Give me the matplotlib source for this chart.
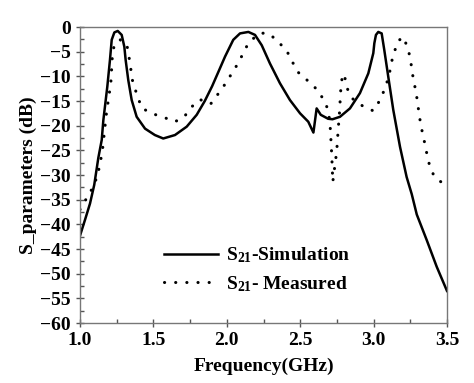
import numpy as np
import matplotlib
matplotlib.use("Agg")
import matplotlib.pyplot as plt
import matplotlib.ticker as mticker

# Simulation S21
sim_f = [1.00, 1.034, 1.068, 1.097, 1.125, 1.148, 1.159, 1.186, 1.204, 1.216, 1.234, 1.257,
         1.284, 1.302, 1.311, 1.329, 1.352, 1.386, 1.443, 1.51, 1.567, 1.647, 1.727,
         1.795, 1.85, 1.90, 1.95, 1.988, 2.044, 2.09, 2.147, 2.192, 2.238, 2.294, 2.362,
         2.43, 2.499, 2.555, 2.59, 2.612, 2.64, 2.69, 2.72, 2.771, 2.839, 2.907, 2.964,
         2.998, 3.005, 3.016, 3.032, 3.055, 3.073, 3.10, 3.134, 3.18, 3.225, 3.26,
         3.294, 3.362, 3.43, 3.50]
sim_db = [-42.3, -39.1, -35.8, -32.0, -26.5, -22.9, -18.9, -12.1, -6.7, -2.6, -1.1, -0.8,
          -1.6, -4.0, -6.7, -10.8, -14.8, -18.2, -20.6, -21.9, -22.6, -21.9, -20.2,
          -17.8, -15.0, -12.0, -8.6, -6.0, -2.6, -1.3, -1.0, -1.6, -3.7, -7.4, -11.4,
          -14.8, -17.5, -19.2, -21.4, -16.5, -17.8, -18.6, -18.7, -18.2, -16.5, -13.4, -9.4,
          -5.3, -3.3, -1.6, -1.0, -1.3, -4.7, -10.1, -16.8, -24.3, -30.4, -33.9,
          -38.0, -43.2, -48.6, -53.5]

# Measured S21
meas_f = [1.00, 1.012, 1.05, 1.097, 1.123, 1.141, 1.155, 1.18, 1.21, 1.22, 1.234, 1.275,
          1.318, 1.334, 1.36, 1.42, 1.486, 1.57, 1.647, 1.71, 1.76, 1.817, 1.89, 1.94,
          1.995, 2.044, 2.085, 2.12, 2.153, 2.215, 2.26, 2.299, 2.362, 2.403, 2.442, 2.483,
          2.548, 2.612, 2.662, 2.69, 2.703, 2.708, 2.713, 2.717, 2.722, 2.744, 2.753,
          2.758, 2.766, 2.771, 2.776, 2.785, 2.80, 2.816, 2.855, 2.925, 2.998, 3.044,
          3.078, 3.107, 3.117, 3.139, 3.169, 3.202, 3.236, 3.253, 3.266, 3.282, 3.298,
          3.309, 3.323, 3.343, 3.36, 3.379, 3.411, 3.475, 3.50]
meas_db = [-37.0, -36.3, -34.5, -32.0, -29.6, -27.0, -24.4, -17.5, -11.3, -6.1, -3.4, -2.6,
           -3.4, -6.1, -11.3, -16.4, -17.5, -18.3, -19.2, -18.2, -16.2, -14.7, -15.6, -13.6,
           -11.3, -8.9, -7.0, -4.7, -3.1, -1.4, -1.2, -1.6, -3.4, -4.5, -6.8, -9.1,
           -10.8, -12.6, -14.8, -16.8, -19.5, -22.2, -24.9, -27.5, -31.4, -26.3, -23.6,
           -20.9, -18.2, -15.5, -12.9, -10.4, -9.5, -12.2, -14.5, -16.0, -17.0, -14.8,
           -12.4, -9.7, -7.7, -5.2, -2.8, -2.0, -4.5, -7.0, -9.7, -12.2, -14.9,
           -17.5, -20.1, -22.8, -25.3, -27.8, -30.2, -31.8, -32.0]

plt.rcParams["font.family"] = ["Liberation Serif", "DejaVu Serif"]
plt.rcParams["font.weight"] = "bold"
plt.rcParams["mathtext.fontset"] = "custom"
plt.rcParams["mathtext.rm"] = "Liberation Serif:bold"
plt.rcParams["mathtext.it"] = "Liberation Serif:bold"
plt.rcParams["mathtext.bf"] = "Liberation Serif:bold"

fig = plt.figure(figsize=(4.74, 3.83), dpi=100)
ax = fig.add_axes([80 / 474, 1 - 323 / 383, 367 / 474, 296 / 383])

ax.plot(sim_f, sim_db, color="black", linewidth=1.8, label="S$_{21}$-Simulation")
ax.plot(meas_f, meas_db, color="black", linewidth=2.2, linestyle=(0, (0.05, 3.6)),
        dash_capstyle="round", label="S$_{21}$- Measured")

ax.set_xlim(1.0, 3.5)
ax.set_ylim(-60, 0)
ax.xaxis.set_major_locator(mticker.MultipleLocator(0.5))
ax.xaxis.set_minor_locator(mticker.MultipleLocator(0.25))
ax.yaxis.set_major_locator(mticker.MultipleLocator(5))
ax.yaxis.set_minor_locator(mticker.MultipleLocator(2.5))
ax.xaxis.set_major_formatter(mticker.FormatStrFormatter("%.1f"))
ax.yaxis.set_major_formatter(mticker.FuncFormatter(lambda v, _: f"{int(v)}".replace("-", "\u2212")))

ax.tick_params(which="major", direction="inout", length=6, width=1, labelsize=14, color="#555555")
ax.tick_params(which="minor", direction="in", length=3, width=1, color="#555555")
ax.tick_params(top=False, right=False, which="both")
for s in ax.spines.values():
    s.set_color("#777777")
    s.set_linewidth(1.0)

ax.set_xlabel("Frequency(GHz)", fontsize=14, fontweight="bold", labelpad=6)
ax.set_ylabel("S_parameters (dB)", fontsize=14, fontweight="bold", labelpad=2)

leg = ax.legend(loc="center left", bbox_to_anchor=(0.18, 0.18), frameon=False,
                fontsize=14, handlelength=2.8, handletextpad=0.4, labelspacing=0.45)

fig.savefig("out.png", dpi=100)
